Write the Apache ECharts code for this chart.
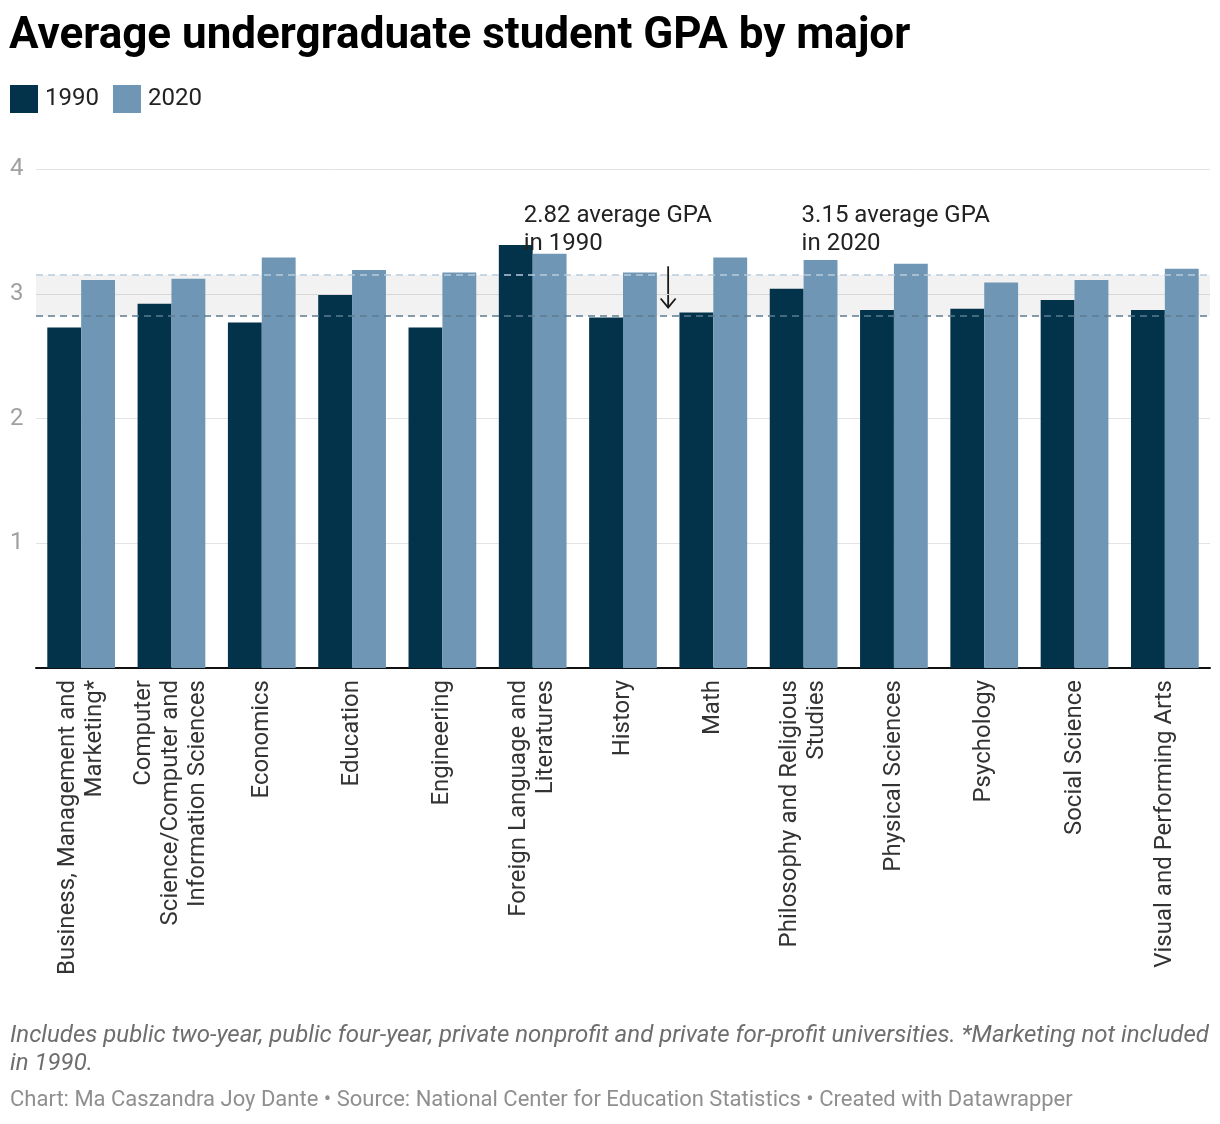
<!DOCTYPE html>
<html>
<head>
<meta charset="utf-8">
<script src="https://cdn.jsdelivr.net/npm/echarts@6/dist/echarts.min.js"></script>
<style>
  html, body { margin: 0; padding: 0; background: #fff; }
  #chart { width: 1220px; height: 1124px; }
</style>
</head>
<body>
<div id="chart"></div>
<script>
const categories = [
  'Business, Management and Marketing*',
  'Computer Science/Computer and Information Sciences',
  'Economics',
  'Education',
  'Engineering',
  'Foreign Language and Literatures',
  'History',
  'Math',
  'Philosophy and Religious Studies',
  'Physical Sciences',
  'Psychology',
  'Social Science',
  'Visual and Performing Arts'
];
const tickLabels = [
  'Business, Management and\nMarketing*',
  'Computer\nScience/Computer and\nInformation Sciences',
  'Economics',
  'Education',
  'Engineering',
  'Foreign Language and\nLiteratures',
  'History',
  'Math',
  'Philosophy and Religious\nStudies',
  'Physical Sciences',
  'Psychology',
  'Social Science',
  'Visual and Performing Arts'
];
const seriesNames = ['1990', '2020'];
const gpa1990 = [2.73, 2.92, 2.77, 2.99, 2.73, 3.39, 2.81, 2.85, 3.04, 2.87, 2.88, 2.95, 2.87];
const gpa2020 = [3.11, 3.12, 3.29, 3.19, 3.17, 3.32, 3.17, 3.29, 3.27, 3.24, 3.09, 3.11, 3.20];
const avg1990 = 2.82;
const avg2020 = 3.15;
const yTickLabels = ['', '1', '2', '3', '4'];
const annotations = [
  { text: '2.82 average GPA\nin 1990', category: 'Foreign Language and Literatures', dx: -9 },
  { text: '3.15 average GPA\nin 2020', category: 'Philosophy and Religious Studies', dx: -2 }
];
const arrowFrom = 3.22, arrowTo = 2.89;

const C1990 = '#03334a';
const C2020 = '#6f96b4';
const FONT = 'Roboto, "Noto Sans", sans-serif';

const chart = echarts.init(document.getElementById('chart'), null, { renderer: 'canvas' });

const option = {
  backgroundColor: '#ffffff',
  animation: false,
  textStyle: { fontFamily: FONT },
  title: {
    text: 'Average undergraduate student GPA by major',
    left: 9, top: 15, padding: 0,
    textStyle: { fontFamily: FONT, fontSize: 44, fontWeight: 'bold', color: '#000' }
  },
  legend: {
    data: seriesNames,
    left: 10, top: 85, padding: 0,
    icon: 'rect',
    itemWidth: 28, itemHeight: 28, itemGap: 14,
    textStyle: { fontFamily: FONT, fontSize: 24, color: '#222', padding: [0, 0, 0, 2] }
  },
  grid: { left: 36, right: 10, top: 169, bottom: 456, containLabel: false },
  xAxis: {
    type: 'category',
    data: categories,
    axisLine: { show: true, lineStyle: { color: '#111', width: 2 } },
    axisTick: { show: false },
    axisLabel: {
      interval: 0, rotate: 90, margin: 12,
      fontFamily: FONT, fontSize: 24, lineHeight: 27, color: '#333',
      formatter: (v, i) => tickLabels[i]
    }
  },
  yAxis: {
    type: 'value', min: 0, max: 4, interval: 1,
    axisLine: { show: false }, axisTick: { show: false },
    splitLine: { lineStyle: { color: '#e3e3e3', width: 1 } },
    axisLabel: {
      align: 'left', margin: 26,
      fontFamily: FONT, fontSize: 24, color: '#a0a0a0',
      formatter: (v) => yTickLabels[Math.round(v)]
    }
  },
  series: [
    {
      name: 'band', type: 'line', data: [], z: 1, silent: true,
      markArea: {
        silent: true,
        itemStyle: { color: 'rgba(0,0,0,0.05)' },
        data: [[{ yAxis: avg1990 }, { yAxis: avg2020 }]]
      }
    },
    {
      name: '1990', type: 'bar', data: gpa1990,
      itemStyle: { color: C1990 },
      barGap: '0%', barCategoryGap: '25%', z: 2
    },
    {
      name: '2020', type: 'bar', data: gpa2020,
      itemStyle: { color: C2020 },
      barGap: '0%', barCategoryGap: '25%', z: 2
    },
    {
      name: 'avglines', type: 'line', data: [], z: 5, silent: true,
      markLine: {
        silent: true, symbol: 'none',
        label: { show: false },
        data: [
          { yAxis: avg2020, lineStyle: { color: '#b8cbdb', type: [7, 5], width: 1.5 } },
          { yAxis: avg1990, lineStyle: { color: '#5c7c91', type: [7, 5], width: 1.5 } }
        ]
      }
    }
  ],
  graphic: []
};
chart.setOption(option);

function px(cat, val) {
  return chart.convertToPixel({ gridIndex: 0 }, [cat, val]);
}
const gfx = [];
const pA = px('History', arrowFrom), pB = px('Math', arrowFrom);
const ax = (pA[0] + pB[0]) / 2;
const ay1 = chart.convertToPixel({ yAxisIndex: 0 }, arrowFrom);
const ay2 = chart.convertToPixel({ yAxisIndex: 0 }, arrowTo);
gfx.push({
  type: 'group', z: 20,
  children: [
    { type: 'line', shape: { x1: ax, y1: ay1, x2: ax, y2: ay2 }, style: { stroke: '#1a1a1a', lineWidth: 1.8 } },
    { type: 'polyline', shape: { points: [[ax - 7.5, ay2 - 9], [ax, ay2], [ax + 7.5, ay2 - 9]] }, style: { stroke: '#1a1a1a', lineWidth: 1.8, fill: null } }
  ]
});
annotations.forEach(a => {
  const p = px(a.category, 4);
  gfx.push({
    type: 'text', z: 20,
    x: p[0] + a.dx, y: 202,
    style: { text: a.text, font: '24px ' + FONT, fill: '#222', lineHeight: 28, textVerticalAlign: 'top' }
  });
});
gfx.push({
  type: 'text', z: 20, x: 10, y: 1022,
  style: {
    text: 'Includes public two-year, public four-year, private nonprofit and private for-profit universities. *Marketing not included\nin 1990.',
    font: 'italic 24px ' + FONT, fill: '#6e6e6e', lineHeight: 28, textVerticalAlign: 'top'
  }
});
gfx.push({
  type: 'text', z: 20, x: 10, y: 1089,
  style: {
    text: 'Chart: Ma Caszandra Joy Dante • Source: National Center for Education Statistics • Created with Datawrapper',
    font: '22px ' + FONT, fill: '#8f8f8f', textVerticalAlign: 'top'
  }
});
chart.setOption({ graphic: gfx });
</script>
</body>
</html>
